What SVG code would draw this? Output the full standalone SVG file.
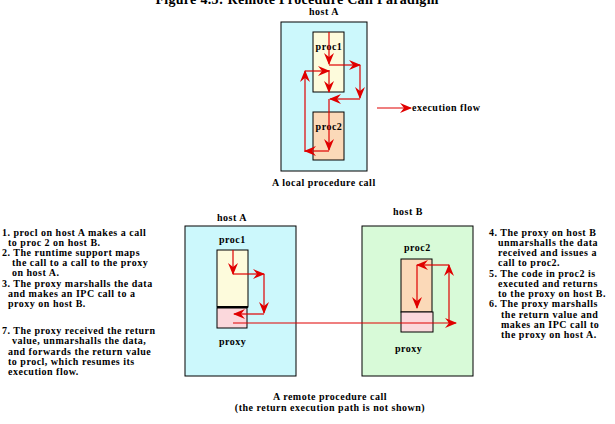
<svg xmlns="http://www.w3.org/2000/svg" width="615" height="424" viewBox="0 0 615 424">
<style>
text{font-family:"Liberation Serif",serif;font-weight:bold;font-size:10px;letter-spacing:0.5px;fill:#000}
.host{fill:#ccf8fc;stroke:#000;stroke-width:1}
.hostb{fill:#d8fad8;stroke:#000;stroke-width:1}
.p1{fill:#fdfbdc;stroke:#000;stroke-width:1}
.p2{fill:#fbd9b8;stroke:#000;stroke-width:1}
.px{fill:#fbd8dc;stroke:#000;stroke-width:1}
.f{fill:none;stroke:#e00000;stroke-width:1.2;marker-end:url(#ah)}
</style>
<defs>
<marker id="ah" viewBox="0 0 12 10" refX="11" refY="5" markerWidth="12" markerHeight="10" markerUnits="userSpaceOnUse" orient="auto">
<path d="M0,0 L12,5 L0,10 L4,5 Z" fill="#e00000"/>
</marker>
</defs>
<rect width="615" height="424" fill="#fff"/>
<text x="297" y="4" text-anchor="middle" style="font-size:14px;letter-spacing:0.3px">Figure 4.3: Remote Procedure Call Paradigm</text>

<g id="local">
<text x="324" y="15" text-anchor="middle">host A</text>
<rect class="host" x="281" y="22" width="86" height="149"/>
<rect class="p1" x="313" y="32" width="31" height="60"/>
<text x="329" y="50" text-anchor="middle">proc1</text>
<rect class="p2" x="313" y="112" width="31" height="48"/>
<text x="329" y="130" text-anchor="middle">proc2</text>
<text x="272" y="186">A local procedure call</text>
</g>

<g id="legend">
<text x="412" y="111">execution flow</text>
</g>

<g id="remoteA">
<text x="217" y="221">host A</text>
<rect class="host" x="185" y="226" width="111" height="150"/>
<text x="219" y="243">proc1</text>
<rect class="p1" x="217" y="250" width="31" height="57"/>
<rect class="px" x="217" y="308" width="30" height="20"/>
<rect x="217" y="306" width="31" height="2" fill="#000"/>
<text x="219" y="345">proxy</text>
</g>

<g id="remoteB">
<text x="393" y="215">host B</text>
<rect class="hostb" x="362" y="226" width="111" height="150"/>
<text x="404" y="251">proc2</text>
<rect class="p2" x="401" y="259" width="31" height="53"/>
<rect class="px" x="401" y="312" width="32" height="20"/>
<text x="395" y="352">proxy</text>
</g>

<g id="connectors">
<path class="f" d="M329,32 V64"/>
<path class="f" d="M329,65 H360"/>
<path class="f" d="M360,65 V98"/>
<path class="f" d="M360,99 H330"/>
<path class="f" d="M329,99 V150"/>
<path class="f" d="M329,151 H305"/>
<path class="f" d="M305,152 V71"/>
<path class="f" d="M305,71 H329"/>
<path class="f" d="M329,70 V92"/>
<path class="f" d="M377,108 H411"/>

<path class="f" d="M233,250 V274"/>
<path class="f" d="M233,274 H264"/>
<path class="f" d="M264,274 V313"/>
<path class="f" d="M264,314 H234"/>
<path class="f" d="M233,323 H456"/>
<path class="f" d="M449,323 V265"/>
<path class="f" d="M449,265 H417"/>
<path class="f" d="M417,265 V308"/>
</g>

<g id="notes">
<text x="2" y="236">1. procl on host A makes a call</text>
<text x="8" y="246">to proc 2 on host B.</text>
<text x="2" y="256">2. The runtime support maps</text>
<text x="12" y="266">the call  to a call to the proxy</text>
<text x="12" y="276">on host A.</text>
<text x="2" y="287">3. The proxy marshalls the data</text>
<text x="8" y="297">and makes an IPC call to a</text>
<text x="8" y="307">proxy on host B.</text>
<text x="2" y="334">7. The proxy received the return</text>
<text x="12" y="344">value, unmarshalls the data,</text>
<text x="8" y="355">and forwards the return value</text>
<text x="8" y="365">to procl, which resumes its</text>
<text x="8" y="375">execution flow.</text>

<text x="489" y="236">4. The proxy on host B</text>
<text x="498" y="246">unmarshalls the data</text>
<text x="498" y="256">received and issues a</text>
<text x="498" y="266">call to proc2.</text>
<text x="489" y="277">5. The code in proc2 is</text>
<text x="498" y="287">executed and returns</text>
<text x="498" y="297">to the proxy on host B.</text>
<text x="489" y="307">6. The proxy marshalls</text>
<text x="501" y="318">the return value and</text>
<text x="501" y="328">makes an IPC call to</text>
<text x="501" y="338">the proxy on host A.</text>
</g>

<g id="caption">
<text x="330" y="400" text-anchor="middle">A remote procedure call</text>
<text x="330" y="411" text-anchor="middle">(the return execution path is not shown)</text>
</g>
</svg>
